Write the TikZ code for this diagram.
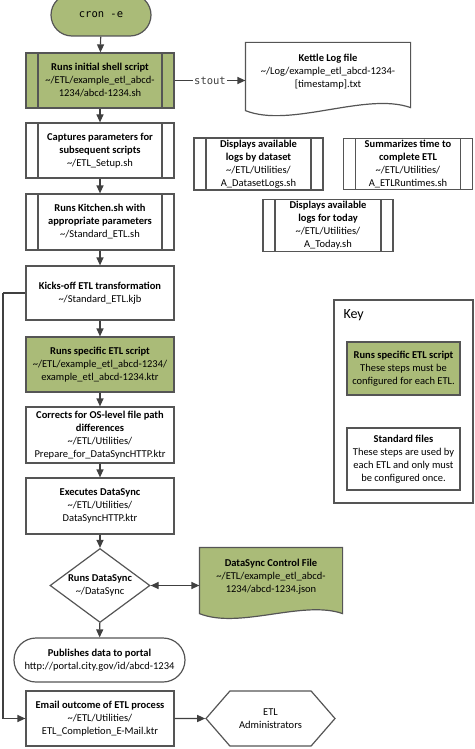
\documentclass[tikz,border=0pt]{standalone}
\usepackage{fontspec}
\setmainfont{Carlito}
\setmonofont{DejaVu Sans Mono}
\usetikzlibrary{arrows.meta,shapes.geometric,shapes.misc,shapes.symbols,backgrounds}

\definecolor{etlgreen}{RGB}{170,187,120}
\definecolor{etledge}{RGB}{85,85,85}
\definecolor{etlline}{RGB}{64,64,64}

\tikzset{
  box/.style={draw=etledge, line width=1.2pt, rectangle, align=center,
    font=\fontsize{10.5}{13}\selectfont, inner sep=2pt},
  mainbox/.style={box, minimum width=148pt, minimum height=55pt},
  smallbox/.style={box, minimum width=129pt, minimum height=49pt},
  predef/.style={path picture={
      \draw[etledge, line width=1.2pt]
        ([xshift=12pt]path picture bounding box.north west) --
        ([xshift=12pt]path picture bounding box.south west)
        ([xshift=-12pt]path picture bounding box.north east) --
        ([xshift=-12pt]path picture bounding box.south east);}},
  green/.style={fill=etlgreen},
  docnode/.style={box, draw=none, minimum height=58pt},
  docline/.style={draw=etledge, line width=1.2pt},
  arr/.style={etlline, line width=1.2pt, -{Triangle[length=8pt,width=7pt]}},
  conn/.style={etlline, line width=1.2pt}
}

\begin{document}
\begin{tikzpicture}[x=1pt, y=-1pt]
\useasboundingbox (0,0) rectangle (474,749);

% main column
\node[box, green, rounded rectangle, minimum width=104pt, minimum height=42pt,
  font=\ttfamily\fontsize{10.5}{12}\selectfont] (cron) at (101,15) {cron -e};
\node[mainbox, green, predef] (init) at (100,80.5) {\textbf{Runs initial shell script}\\\textasciitilde/ETL/example\_etl\_abcd-\\1234/abcd-1234.sh};
\node[mainbox, predef] (setup) at (100,150.5) {\textbf{Captures parameters for}\\\textbf{subsequent scripts}\\\textasciitilde/ETL\_Setup.sh};
\node[mainbox, predef, minimum height=56pt] (kitchen) at (100,222) {\textbf{Runs Kitchen.sh with}\\\textbf{appropriate parameters}\\\textasciitilde/Standard\_ETL.sh};
\node[mainbox, minimum height=54pt] (kickoff) at (100,293) {\textbf{Kicks-off ETL transformation}\\\textasciitilde/Standard\_ETL.kjb};
\node[mainbox, green] (specific) at (100,364.5) {\textbf{Runs specific ETL script}\\\textasciitilde/ETL/example\_etl\_abcd-1234/\\example\_etl\_abcd-1234.ktr};
\node[mainbox, minimum height=56pt] (corrects) at (100,435) {\textbf{Corrects for OS-level file path}\\\textbf{differences}\\\textasciitilde/ETL/Utilities/\\Prepare\_for\_DataSyncHTTP.ktr};
\node[mainbox, minimum height=56pt] (executes) at (100,506) {\textbf{Executes DataSync}\\\textasciitilde/ETL/Utilities/\\DataSyncHTTP.ktr};
\node[box, diamond, aspect=1.35, minimum width=100pt, minimum height=74pt, inner sep=0pt] (rundsync) at (100,585.5) {\textbf{Runs DataSync}\\\textasciitilde/DataSync};
\node[box, rounded rectangle, minimum width=175pt, minimum height=44pt] (publish) at (99.5,660) {\textbf{Publishes data to portal}\\http://portal.city.gov/id/abcd-1234};
\node[mainbox] (email) at (100,718.5) {\textbf{Email outcome of ETL process}\\\textasciitilde/ETL/Utilities/\\ETL\_Completion\_E-Mail.ktr};
\node[box, signal, signal to=west and east, signal pointer angle=98,
  minimum width=129pt, minimum height=55pt] (admins) at (270.5,718.5) {ETL\\Administrators};

% documents
\node[docnode, minimum width=164pt] (kettle) at (328,72) {\textbf{Kettle Log file}\\\textasciitilde/Log/example\_etl\_abcd-1234-\\{}[timestamp].txt};
\draw[docline] (kettle.north west) -- (kettle.north east) -- ([yshift=-6pt]kettle.south east)
  .. controls +(-45,-16) and +(45,18) .. ([yshift=-9pt]kettle.south west) -- cycle;
\node[docnode, minimum width=142pt] (ctrl) at (271,577) {\textbf{DataSync Control File}\\\textasciitilde/ETL/example\_etl\_abcd-\\1234/abcd-1234.json};
\begin{scope}[on background layer]
\filldraw[docline, fill=etlgreen] (ctrl.north west) -- (ctrl.north east) -- ([yshift=-7pt]ctrl.south east)
  .. controls +(-40,-14) and +(40,16) .. ([yshift=-7pt]ctrl.south west) -- cycle;
\end{scope}

% utilities
\node[smallbox, predef, minimum height=50pt] (dslogs) at (258.5,164) {\textbf{Displays available}\\\textbf{logs by dataset}\\\textasciitilde/ETL/Utilities/\\A\_DatasetLogs.sh};
\node[smallbox, predef, minimum height=50pt] (runtimes) at (408,164) {\textbf{Summarizes time to}\\\textbf{complete ETL}\\\textasciitilde/ETL/Utilities/\\A\_ETLRuntimes.sh};
\node[smallbox, predef, minimum width=130pt] (today) at (328,225.5) {\textbf{Displays available}\\\textbf{logs for today}\\\textasciitilde/ETL/Utilities/\\A\_Today.sh};

% key
\node[box, minimum width=139pt, minimum height=203pt] (key) at (403.5,401.5) {};
\node[anchor=west, font=\fontsize{14}{16}\selectfont] (keytitle) at (340,315) {Key};
\node[box, green, minimum width=113pt, minimum height=53pt] (keygreen) at (403.5,368.5) {\textbf{Runs specific ETL script}\\These steps must be\\configured for each ETL.};
\node[box, minimum width=113pt, minimum height=62pt] (keystd) at (403.5,459) {\textbf{Standard files}\\These steps are used by\\each ETL and only must\\be configured once.};

% connectors
\draw[arr] (cron) -- (init);
\draw[arr] (init) -- (setup);
\draw[arr] (setup) -- (kitchen);
\draw[arr] (kitchen) -- (kickoff);
\draw[arr] (kickoff) -- (specific);
\draw[arr] (specific) -- (corrects);
\draw[arr] (corrects) -- (executes);
\draw[arr] (executes) -- (rundsync);
\draw[arr] (rundsync) -- (publish);
\draw[arr] (init.east) -- node[fill=white, inner sep=1pt, font=\ttfamily\fontsize{10.5}{12}\selectfont] (stout) {stout} (init.east -| kettle.west);
\draw[arr, {Triangle[length=8pt,width=7pt]}-{Triangle[length=8pt,width=7pt]}] (rundsync.east) -- (rundsync.east -| ctrl.west);
\coordinate (loop) at (3,293);
\draw[conn] (kickoff.west) -- (loop);
\draw[arr] (loop) |- (email.west);
\draw[arr] (email) -- (admins);
\end{tikzpicture}
\end{document}
